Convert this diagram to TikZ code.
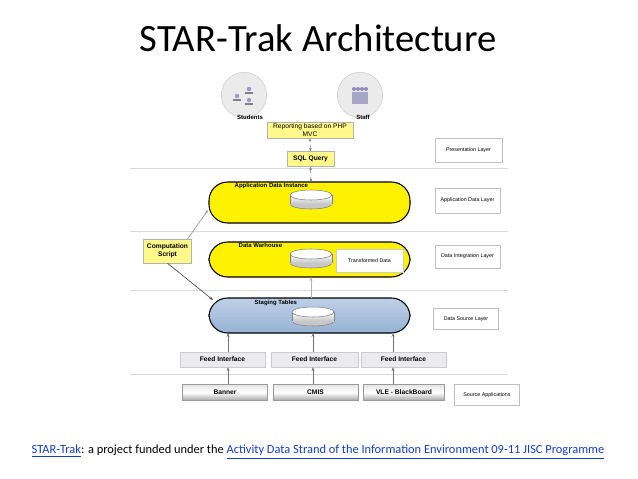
\documentclass[tikz,border=0pt]{standalone}
\usepackage{fontspec}
\setmainfont{Carlito}
\newfontfamily\arial{Liberation Sans}
\usetikzlibrary{shapes.geometric,arrows.meta}
\definecolor{linkb}{RGB}{20,60,200}
\definecolor{stgA}{RGB}{150,178,212}
\definecolor{stgB}{RGB}{190,208,232}
\begin{document}
\begin{tikzpicture}[x=0.75pt,y=-0.75pt,
  sep/.style={draw=black!15,line width=0.6pt},
  ybox/.style={draw=black!30,fill=yellow!45,font=\arial\fontsize{5}{6}\selectfont},
  pill/.style={draw=black,line width=0.8pt,rounded corners=14},
  lay/.style={draw=black!25,fill=white,font=\arial\fontsize{4}{5}\selectfont,align=center},
  feed/.style={draw=black!20,fill=blue!15!black!8,font=\arial\bfseries\fontsize{5}{6}\selectfont},
  src/.style={draw=black!40,top color=black!10,bottom color=black!35,middle color=white,font=\arial\bfseries\fontsize{5}{6}\selectfont},
  arr/.style={-{Stealth[length=3pt]},black!55,line width=0.5pt},
  lbl/.style={font=\arial\bfseries\fontsize{4.5}{5}\selectfont}]
\useasboundingbox (0,0) rectangle (638,478);
\newcommand\mycyl[2]{%
 \filldraw[draw=black!50,fill=black!22] (#1,#2+5) ellipse[x radius=21,y radius=5];
 \fill[black!22] (#1-21,#2-4) rectangle (#1+21,#2+5);
 \shade[top color=white,bottom color=black!22] (#1-21,#2-4) rectangle (#1+21,#2+5);
 \draw[black!50] (#1-21,#2-4) -- (#1-21,#2+5) (#1+21,#2-4) -- (#1+21,#2+5);
 \filldraw[draw=black!50,fill=white] (#1,#2-4) ellipse[x radius=21,y radius=5];}
\node (title) at (318,38) {\fontsize{29}{32}\selectfont STAR-Trak Architecture};
\draw[sep] (130,168) -- (508,168);
\draw[sep] (130,231) -- (508,231);
\draw[sep] (130,290) -- (508,290);
\draw[sep] (130,374) -- (508,374);
\node[circle,draw=black!20,fill=black!8,minimum size=34] (stu) at (244,95) {};
\node[circle,draw=black!20,fill=black!8,minimum size=34] (stf) at (360,95) {};
\foreach \dx/\dy in {-7/2,5/-5,5/6}{\fill[black!50] (244+\dx-4,95+\dy+2) rectangle (244+\dx+4,95+\dy+4);
 \fill[blue!40!black!40] (244+\dx,95+\dy-1) circle (2.2);}
\foreach \dx in {-6,-2,2,6}{\fill[blue!40!black!35] (360+\dx-2,92) rectangle (360+\dx+2,104);\fill[blue!40!black!45] (360+\dx,89) circle (2);}
\node[lbl] (stul) at (250,117) {Students};
\node[lbl] (stfl) at (363,117) {Staff};
\node[ybox,minimum width=64.5,minimum height=12,align=center,inner sep=0.5pt] (rep) at (310,130) {Reporting based on PHP\\MVC};
\node[ybox,font=\arial\bfseries\fontsize{5}{6}\selectfont,minimum width=35,minimum height=8] (sql) at (310.5,159) {SQL Query};
\draw[pill,fill=yellow] (209,182) rectangle (410,223);
\node[lbl,anchor=west] (adl) at (230,186) {Application Data Instance};
\mycyl{311}{199}
\draw[pill,fill=yellow] (209,242) rectangle (410,277);
\node[lbl,anchor=west] (dwl) at (234,245.5) {Data Warhouse};
\mycyl{311}{258}
\node[lay,minimum width=50,minimum height=17,draw=black!20] (tr) at (369.5,260.5) {Transformed Data};
\draw[pill,top color=stgB,bottom color=stgA] (209,298) rectangle (410,333);
\node[lbl,anchor=west] (stl) at (250,302.5) {Staging Tables};
\mycyl{313}{316}
\node[ybox,font=\arial\bfseries\fontsize{5}{6}\selectfont,align=center,minimum width=36,minimum height=18,inner sep=0.5pt] (cs) at (167.5,251) {Computation\\Script};
\node[lay,minimum width=50,minimum height=18] (l1) at (468.5,150) {Presentation Layer};
\node[lay,minimum width=49,minimum height=19] (l2) at (467.5,200.5) {Application Data Layer};
\node[lay,minimum width=49,minimum height=17] (l3) at (467.5,256.5) {Data Integration Layer};
\node[lay,minimum width=49,minimum height=16] (l4) at (466,319) {Data Source Layer};
\node[lay,minimum width=49,minimum height=16] (l5) at (487,395) {Source Applications};
\foreach \n/\x/\w in {1/222.5/64,2/314.5/65,3/403.5/64}{
 \node[feed,minimum width=\w,minimum height=11] (f\n) at (\x,359.5) {Feed Interface};}
\node[src,minimum width=64,minimum height=12] (s1) at (225,392.5) {Banner};
\node[src,minimum width=64,minimum height=12] (s2) at (315.5,392.5) {CMIS};
\node[src,minimum width=61,minimum height=12] (s3) at (404,392.5) {VLE - BlackBoard};
\coordinate (st1) at (228,333); \coordinate (st2) at (313,333); \coordinate (st3) at (393,333);
\draw[arr] (s1.north -| st1) -- (f1.south -| st1);
\draw[arr] (s2.north -| st2) -- (f2.south -| st2);
\draw[arr] (s3.north -| st3) -- (f3.south -| st3);
\draw[arr] (f1.north -| st1) -- (st1);
\draw[arr] (f2.north -| st2) -- (st2);
\draw[arr] (f3.north -| st3) -- (st3);
\coordinate (dwb) at (311,277); \coordinate (stt) at (311,298);
\draw[arr,black!30] (stt) -- (dwb);
\coordinate (adb) at (311,182);
\draw[arr,dashed,{Stealth[length=2.5pt]}-{Stealth[length=2.5pt]}] (sql.south) -- (adb);
\draw[arr,dashed,{Stealth[length=2.5pt]}-{Stealth[length=2.5pt]}] (sql.north) -- (rep.south);
\coordinate (ada) at (208,210); \coordinate (sta) at (213,300);
\draw[arr,black!40] (cs.north east) ++(-4,0) -- (ada);
\draw[arr,black!70] (cs.south) -- (sta);
\node (foot) at (318,452) {\fontsize{9.3}{11}\selectfont\textcolor{linkb}{\underline{STAR-Trak}}: a project funded under the \textcolor{linkb}{\underline{Activity Data Strand of the Information Environment 09-11 JISC Programme}}};
\end{tikzpicture}
\end{document}
